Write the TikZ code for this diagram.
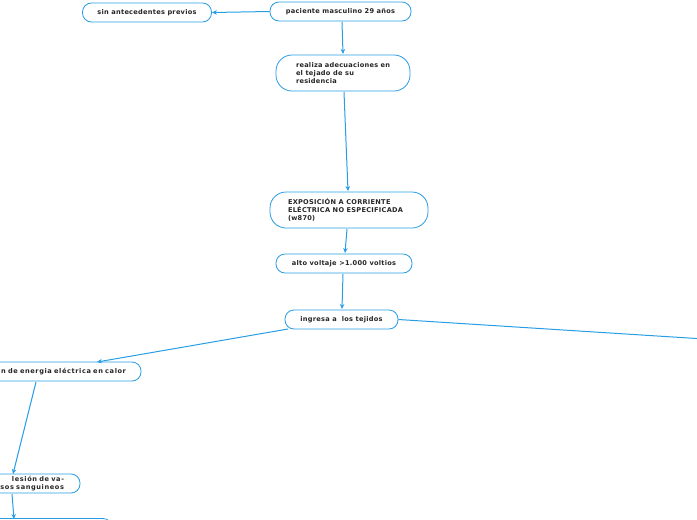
\documentclass[tikz,border=0pt]{standalone}
\usepackage{fontspec}
\setmainfont{DejaVu Sans}[LetterSpace=4]
\newfontfamily\widefont{DejaVu Sans}[LetterSpace=9]
\usetikzlibrary{arrows.meta}
\definecolor{mblue}{RGB}{40,156,228}
\begin{document}
\begin{tikzpicture}[x=1pt,y=-1pt,
  box/.style={draw=mblue,line width=0.8pt,rounded corners=9pt,fill=white,font=\fontsize{6.6}{8}\selectfont\bfseries,text=black!85,inner sep=0pt,minimum height=19pt},
  con/.style={draw=mblue,line width=1pt,-{Stealth[length=5pt,width=4.5pt]}}]
\useasboundingbox (0,0) rectangle (697,520);
\clip (0,0) rectangle (697,520);
\node[box,minimum width=129pt] (sin) at (147,12.5) {sin antecedentes previos};
\node[box,minimum width=141pt] (pac) at (340.5,11.5) {paciente masculino 29 años};
\node[box,minimum width=134pt,minimum height=36pt,rounded corners=16pt] (rea) at (343,73) {\begin{minipage}{94pt}\raggedright realiza adecuaciones en\\ el tejado de su\\ residencia\end{minipage}};
\node[box,minimum width=158pt,minimum height=36pt,rounded corners=16pt] (exp) at (349,210) {\begin{minipage}{122pt}\raggedright EXPOSICIÓN A CORRIENTE\\ ELÉCTRICA NO ESPECIFICADA\\ (w870)\end{minipage}};
\node[box,minimum width=136pt] (alto) at (344,263.5) {alto voltaje >1.000 voltios};
\node[box,minimum width=113pt] (ing) at (341.5,319.5) {ingresa a\ \ los tejidos};
\node[box,minimum width=240pt,text width=210pt,align=right] (conv) at (21,371.5) {\widefont\bfseries conversión de energia eléctrica en calor};
\node[box,minimum width=140pt,text width=108pt,align=right] (vas) at (10,483.5) {\widefont\bfseries lesión de vasos sanguineos};
\node[box,minimum width=180pt] (bot) at (22,528) {};
\coordinate (off) at (720,340);
\draw[con] (pac.west) -- (sin.east);
\draw[con] (342,22) -- (343,54);
\draw[con] (344,92) -- (348,191);
\draw[con] (347,229) -- (345,253);
\draw[con] (343,274) -- (342,309);
\draw[con] (288,329) -- (97,362);
\draw[con] (ing.east) -- (off);
\draw[con] (36,382) -- (13,474);
\draw[con] (12,494) -- (14,519);
\end{tikzpicture}
\end{document}
